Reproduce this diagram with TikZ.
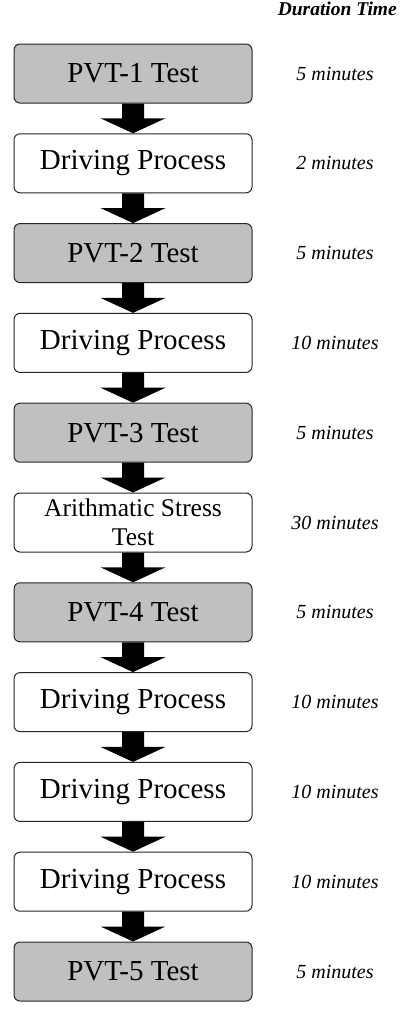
\documentclass[tikz,border=0pt]{standalone}
\usepackage{fontspec}
\setmainfont{Liberation Serif}
\definecolor{boxgray}{HTML}{C0C0C0}
\begin{document}
\begin{tikzpicture}[x=1pt,y=1pt,
  stepbox/.style={draw=black!85, line width=1pt, rounded corners=6pt,
    minimum width=238pt, minimum height=59pt, inner sep=0pt, align=center,
    font=\fontsize{29}{33}\selectfont},
  graybox/.style={stepbox, fill=boxgray},
  whitebox/.style={stepbox, fill=white},
  durlabel/.style={font=\fontsize{20}{24}\selectfont\itshape, inner sep=0pt},
  bigarrow/.style={fill=black}
]
\useasboundingbox (0,0) rectangle (404,-1009);
\node[font=\fontsize{19.5}{24}\selectfont\bfseries\itshape, inner sep=0pt, anchor=base east] (hdr) at (397,-15.5) {Duration Time};

\node[graybox]  (b1)  at (133,-73.5) {PVT-1 Test};
\node[whitebox] (b2)  at (133,-163.3) {Driving Process};
\node[graybox]  (b3)  at (133,-253.1) {PVT-2 Test};
\node[whitebox] (b4)  at (133,-342.9) {Driving Process};
\node[graybox]  (b5)  at (133,-432.7) {PVT-3 Test};
\node[whitebox, font=\fontsize{25.5}{29}\selectfont] (b6)  at (133,-522.5) {Arithmatic Stress\\Test};
\node[graybox]  (b7)  at (133,-612.3) {PVT-4 Test};
\node[whitebox] (b8)  at (133,-702.1) {Driving Process};
\node[whitebox] (b9)  at (133,-791.9) {Driving Process};
\node[whitebox] (b10) at (133,-881.7) {Driving Process};
\node[graybox]  (b11) at (133,-971.5) {PVT-5 Test};

\node[durlabel] (d1)  at (335,-73.5)  {5 minutes};
\node[durlabel] (d2)  at (335,-163.3) {2 minutes};
\node[durlabel] (d3)  at (335,-253.1) {5 minutes};
\node[durlabel] (d4)  at (335,-342.9) {10 minutes};
\node[durlabel] (d5)  at (335,-432.7) {5 minutes};
\node[durlabel] (d6)  at (335,-522.5) {30 minutes};
\node[durlabel] (d7)  at (335,-612.3) {5 minutes};
\node[durlabel] (d8)  at (335,-702.1) {10 minutes};
\node[durlabel] (d9)  at (335,-791.9) {10 minutes};
\node[durlabel] (d10) at (335,-881.7) {10 minutes};
\node[durlabel] (d11) at (335,-971.5) {5 minutes};

\foreach \a/\b in {b1/b2,b2/b3,b3/b4,b4/b5,b5/b6,b6/b7,b7/b8,b8/b9,b9/b10,b10/b11}{
  \fill[bigarrow] ([xshift=-11pt]\a.south) -- ([xshift=-11pt,yshift=15pt]\b.north)
    -- ([xshift=-32.5pt,yshift=15pt]\b.north) -- (\b.north)
    -- ([xshift=32.5pt,yshift=15pt]\b.north) -- ([xshift=11pt,yshift=15pt]\b.north)
    -- ([xshift=11pt]\a.south) -- cycle;
}
\end{tikzpicture}
\end{document}
